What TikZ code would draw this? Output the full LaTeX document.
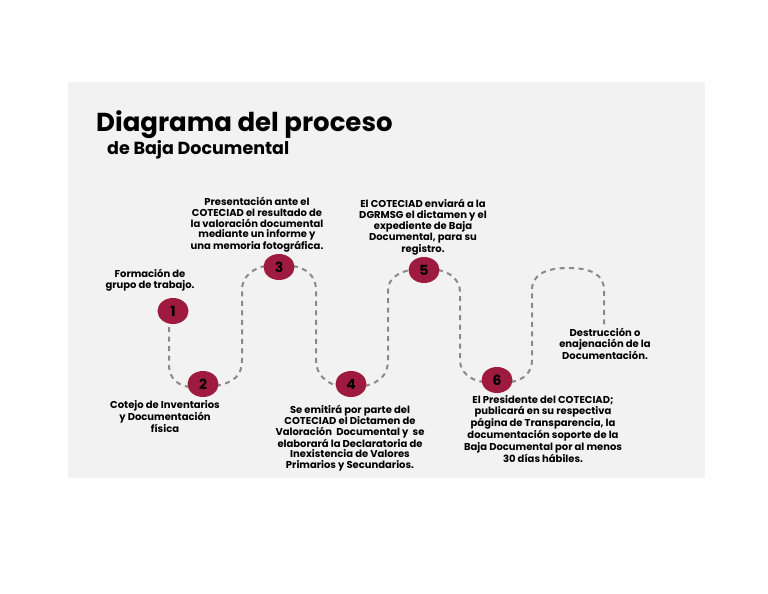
\documentclass[tikz,border=0pt]{standalone}
\usepackage{fontspec}
\setmainfont{Poppins}
\definecolor{panel}{HTML}{F2F2F2}
\definecolor{maroon}{HTML}{9E1B3F}
\definecolor{dash}{HTML}{8A8A8A}
\tikzset{
 num/.style={ellipse,fill=maroon,minimum width=31pt,minimum height=26pt,inner sep=0pt,font=\bfseries\fontsize{14}{14}\selectfont,text=black},
 txt/.style={align=center,font=\bfseries\fontsize{10}{10.6}\selectfont,text=black,inner sep=0pt},
 wave/.style={draw=dash,line width=2pt,dash pattern=on 5pt off 4.5pt}
}
\usetikzlibrary{shapes.geometric}
\begin{document}
\begin{tikzpicture}[x=1pt,y=-1pt]
\useasboundingbox (0,0) rectangle (768,594);
\fill[white] (0,0) rectangle (768,594);
\fill[panel] (68,82) rectangle (705,478);
\node[anchor=base west,inner sep=0pt,font=\bfseries\fontsize{26}{26}\selectfont] (t1) at (96,131) {Diagrama del proceso};
\node[anchor=base west,inner sep=0pt,font=\bfseries\fontsize{17.5}{17.5}\selectfont] (t2) at (107,154) {de Baja Documental};
% wave
\coordinate (e) at (604,325);
\draw[wave] (169,327) -- (169,365) .. controls (169,380) and (180,386) .. (190,387)
  (216,386) .. controls (235,382) and (242,375) .. (242,360) -- (242,290) .. controls (242,275) and (255,268) .. (265,266)
  (293,266) .. controls (305,268) and (316,275) .. (316,290) -- (316,360) .. controls (316,375) and (326,382) .. (337,386)
  (365,386) .. controls (380,382) and (388,375) .. (388,360) -- (388,290) .. controls (388,278) and (400,272) .. (410,270)
  (438,270) .. controls (450,272) and (460,280) .. (460,292) -- (460,360) .. controls (460,372) and (470,380) .. (483,382)
  (511,382) .. controls (524,380) and (532,372) .. (532,360) -- (532,290) .. controls (532,275) and (545,268) .. (568,268)
  .. controls (592,268) and (604,275) .. (604,290) -- (e);
\node[num] (n1) at (173,311) {1};
\node[num] (n2) at (203,384) {2};
\node[num] (n3) at (279,267) {3};
\node[num] (n4) at (351,384) {4};
\node[num] (n5) at (424,270) {5};
\node[num] (n6) at (497,380) {6};
\node[txt] (a1) at (150,280) {Formación de\\grupo de trabajo.};
\node[txt] (a3) at (257,225) {Presentación ante el\\COTECIAD el resultado de\\la valoración documental\\mediante un informe y\\una memoria fotográfica.};
\node[txt] (a5) at (423,227) {El COTECIAD enviará a la\\DGRMSG el dictamen y el\\expediente de Baja\\Documental, para su\\registro.};
\node[txt] (a7) at (605,344) {Destrucción o\\enajenación de la\\Documentación.};
\node[txt] (a2) at (165,417) {Cotejo de Inventarios\\y Documentación\\física};
\node[txt] (a4) at (350,438) {Se emitirá por parte del\\COTECIAD el Dictamen de\\Valoración\ \ Documental y\ \ se\\elaborará la Declaratoria de\\Inexistencia de Valores\\Primarios y Secundarios.};
\node[txt] (a6) at (543,429) {El Presidente del COTECIAD;\\publicará en su respectiva\\página de Transparencia, la\\documentación soporte de la\\Baja Documental por al menos\\30 días hábiles.};
\end{tikzpicture}
\end{document}
